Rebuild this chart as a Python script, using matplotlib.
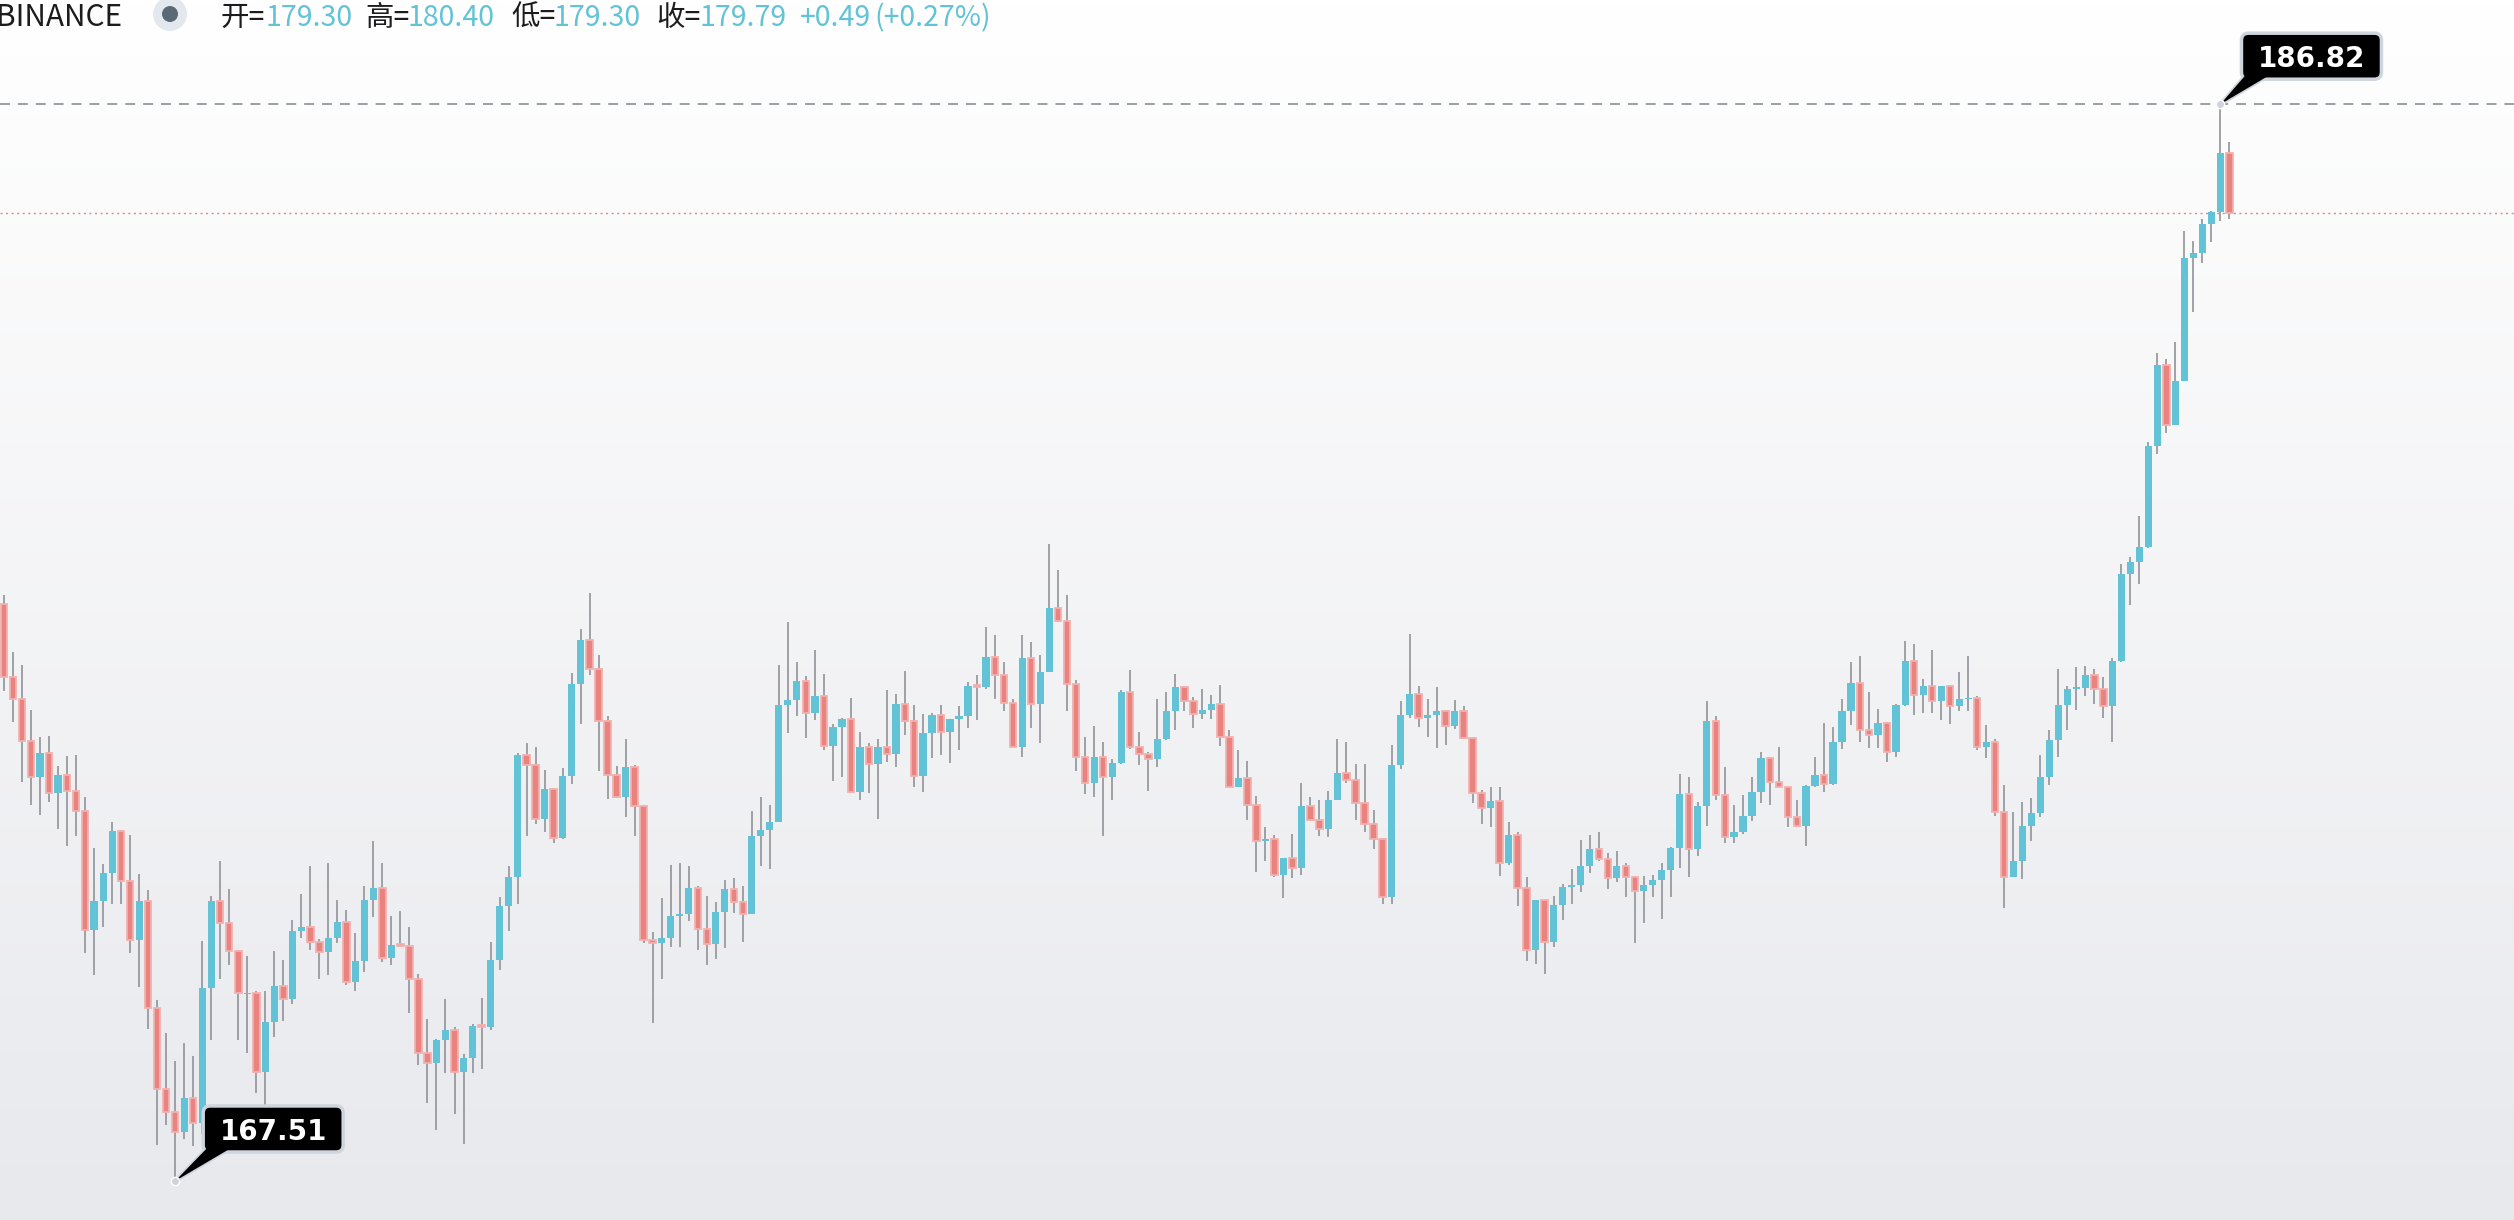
import numpy as np
import matplotlib
matplotlib.use('Agg')
import matplotlib.pyplot as plt
from matplotlib.patches import FancyBboxPatch, Polygon, Circle
from matplotlib.transforms import IdentityTransform

# ---- data ----
opens = [177.85, 176.55, 176.15, 175.40, 174.76, 175.18, 174.47, 174.79, 174.50, 174.14,
         172.01, 172.53, 173.03, 173.78, 172.89, 171.84, 172.53, 170.62, 169.16, 168.75,
         168.38, 169.00, 168.55, 170.97, 172.53, 172.14, 171.63, 170.86, 170.89, 169.46,
         170.36, 171.00, 170.77, 171.99, 172.06, 171.80, 171.61, 171.86, 172.16, 171.07,
         171.45, 172.55, 172.76, 171.50, 171.75, 171.73, 171.13, 169.81, 169.62, 170.03,
         170.22, 169.46, 169.72, 170.30, 170.28, 171.47, 172.44, 172.96, 175.15, 174.97,
         174.01, 174.54, 173.66, 174.77, 176.43, 177.21, 176.69, 175.76, 174.79, 174.39,
         174.93, 174.23, 171.83, 171.77, 171.86, 172.26, 172.29, 172.76, 172.03, 171.76,
         172.34, 172.74, 172.52, 172.30, 173.70, 173.80, 173.95, 176.05, 176.14, 176.48,
         175.91, 176.21, 175.31, 175.66, 175.79, 174.49, 175.30, 174.99, 175.30, 175.17,
         176.06, 175.75, 174.77, 175.55, 175.87, 175.57, 175.79, 175.85, 176.40, 176.37,
         176.91, 176.58, 176.09, 175.30, 176.89, 176.06, 176.64, 177.78, 177.56, 176.42,
         175.11, 174.64, 175.11, 174.75, 175.00, 176.28, 175.29, 175.17, 175.08, 175.43,
         175.93, 176.37, 176.12, 175.88, 175.96, 176.06, 175.48, 174.58, 174.73, 174.25,
         173.61, 173.64, 173.00, 173.30, 173.12, 174.23, 173.98, 173.82, 174.35, 174.82,
         174.70, 174.29, 173.92, 173.65, 172.60, 174.97, 175.87, 176.24, 175.81, 175.87,
         175.94, 175.67, 175.93, 175.45, 174.46, 174.19, 174.32, 173.21, 173.71, 172.76,
         171.66, 172.54, 171.80, 172.46, 172.79, 172.82, 173.15, 173.47, 173.28, 172.95,
         173.15, 172.97, 172.71, 172.81, 172.90, 173.08, 173.48, 174.45, 173.46, 174.23,
         175.75, 174.43, 173.68, 173.76, 174.05, 174.48, 175.10, 174.67, 174.57, 174.03,
         173.87, 174.59, 174.79, 174.63, 175.39, 175.94, 176.44, 175.59, 175.51, 175.73,
         175.21, 176.04, 176.84, 176.23, 176.39, 176.12, 176.38, 176.03, 176.15, 176.17,
         175.29, 175.38, 174.13, 172.97, 173.25, 173.88, 174.11, 174.75, 175.42, 176.04,
         176.33, 176.35, 176.58, 176.33, 176.02, 176.83, 178.39, 178.61, 178.88, 180.69,
         182.15, 181.07, 181.86, 184.06, 184.15, 184.68, 184.88, 185.94]
highs = [178.01, 177.00, 176.77, 175.95, 175.47, 175.49, 174.96, 175.13, 175.15, 174.39,
         173.48, 173.20, 173.95, 173.80, 173.72, 173.01, 172.72, 170.76, 170.17, 169.67,
         169.98, 169.75, 171.82, 172.62, 173.24, 172.74, 171.66, 171.55, 170.91, 170.91,
         171.64, 171.47, 172.19, 172.65, 173.16, 171.85, 173.21, 172.55, 172.37, 171.95,
         172.80, 173.60, 173.21, 172.26, 172.35, 172.07, 171.22, 170.42, 170.05, 170.77,
         170.28, 169.78, 170.33, 170.79, 171.80, 172.61, 173.16, 175.18, 175.37, 175.30,
         174.88, 174.56, 174.91, 176.62, 177.41, 178.06, 176.94, 175.85, 174.95, 175.43,
         174.97, 174.25, 171.98, 172.58, 173.18, 173.21, 173.16, 172.80, 172.62, 172.52,
         172.91, 172.94, 172.80, 174.15, 174.39, 174.25, 176.76, 177.54, 176.82, 176.57,
         177.04, 176.60, 175.70, 175.81, 176.17, 175.57, 175.36, 175.43, 176.32, 176.25,
         176.66, 176.05, 175.89, 175.91, 176.05, 175.80, 176.02, 176.45, 176.58, 177.45,
         177.30, 176.82, 176.15, 177.30, 177.18, 176.94, 178.93, 178.47, 178.02, 176.49,
         175.48, 175.67, 175.39, 175.07, 176.31, 176.67, 175.56, 175.21, 176.15, 176.28,
         176.60, 176.38, 176.19, 176.33, 176.22, 176.40, 175.59, 175.23, 175.05, 174.41,
         173.85, 173.71, 173.30, 173.74, 174.65, 174.39, 174.34, 174.51, 175.43, 175.39,
         174.99, 174.99, 174.16, 173.66, 175.33, 176.12, 177.32, 176.39, 176.15, 176.36,
         175.96, 176.14, 176.03, 175.46, 174.52, 174.58, 174.58, 173.95, 173.77, 172.97,
         172.55, 172.55, 172.62, 172.84, 173.10, 173.62, 173.71, 173.76, 173.40, 173.43,
         173.21, 172.98, 172.98, 173.00, 173.21, 173.50, 174.81, 174.75, 174.31, 176.11,
         175.85, 174.93, 174.25, 174.43, 174.76, 175.21, 175.12, 175.29, 174.58, 174.34,
         174.61, 175.11, 175.72, 175.65, 176.15, 176.82, 176.92, 176.28, 175.98, 175.74,
         176.06, 177.20, 177.14, 176.51, 177.04, 176.38, 176.40, 176.64, 176.92, 176.21,
         175.69, 175.43, 174.61, 174.13, 174.31, 174.37, 175.15, 175.60, 176.70, 176.39,
         176.72, 176.75, 176.69, 176.55, 176.89, 178.58, 178.70, 179.43, 180.76, 182.36,
         182.25, 182.56, 184.54, 184.37, 184.76, 184.90, 186.82, 186.15]
lows = [176.30, 175.74, 174.67, 174.26, 174.07, 174.30, 173.82, 173.52, 173.69, 171.59,
        171.21, 172.06, 172.48, 172.48, 171.59, 170.99, 170.24, 168.15, 168.52, 167.51,
        168.26, 168.14, 168.36, 170.03, 171.13, 171.38, 170.03, 169.80, 169.09, 168.79,
        170.10, 170.38, 170.69, 171.87, 171.65, 171.13, 171.20, 171.78, 171.03, 170.91,
        171.25, 172.25, 171.43, 171.39, 171.72, 170.53, 169.59, 168.90, 168.42, 169.45,
        168.71, 168.18, 169.45, 169.52, 170.22, 171.29, 171.99, 172.48, 173.69, 173.92,
        173.77, 173.57, 173.65, 174.63, 175.71, 176.59, 174.87, 174.36, 174.38, 174.03,
        173.69, 171.78, 170.35, 171.14, 171.70, 171.70, 172.18, 171.65, 171.38, 171.49,
        171.68, 172.31, 171.80, 172.30, 173.16, 173.10, 173.94, 175.55, 175.84, 175.45,
        175.77, 175.23, 174.69, 174.76, 174.47, 174.35, 174.46, 174.00, 175.03, 174.93,
        175.51, 174.57, 174.49, 175.09, 175.15, 175.00, 175.23, 175.63, 175.77, 176.33,
        176.15, 175.94, 175.29, 175.11, 175.64, 175.36, 176.63, 177.54, 175.94, 174.87,
        174.45, 174.40, 173.70, 174.35, 174.98, 175.25, 174.97, 174.51, 174.94, 175.42,
        175.60, 175.93, 175.64, 175.79, 175.79, 175.31, 174.57, 174.57, 173.99, 173.06,
        173.24, 172.97, 172.58, 172.94, 173.00, 173.97, 173.70, 173.67, 174.34, 174.64,
        173.99, 173.76, 173.46, 172.48, 172.48, 174.89, 175.81, 175.65, 175.48, 175.27,
        175.33, 175.61, 175.45, 174.29, 173.91, 173.86, 172.98, 173.18, 172.44, 171.46,
        171.40, 171.23, 171.71, 172.19, 172.48, 172.70, 173.04, 173.25, 172.74, 172.88,
        172.60, 171.78, 172.13, 172.60, 172.20, 172.61, 173.13, 172.97, 173.33, 173.88,
        174.34, 173.58, 173.58, 173.73, 173.97, 174.29, 174.25, 174.56, 173.85, 173.86,
        173.51, 174.58, 174.49, 174.62, 175.25, 175.69, 175.39, 175.27, 175.27, 175.03,
        175.11, 176.03, 175.87, 175.90, 175.90, 175.77, 175.70, 175.93, 175.94, 175.23,
        175.09, 174.05, 172.40, 172.96, 172.92, 173.61, 174.03, 174.61, 175.12, 175.60,
        175.96, 176.20, 176.06, 175.82, 175.38, 176.82, 177.84, 178.22, 178.87, 180.54,
        180.92, 181.06, 181.85, 183.10, 183.97, 184.34, 184.73, 184.77]
closes = [176.55, 176.15, 175.40, 174.76, 175.18, 174.47, 174.79, 174.50, 174.14, 172.01,
          172.53, 173.03, 173.78, 172.89, 171.84, 172.53, 170.62, 169.16, 168.75, 168.38,
          169.00, 168.55, 170.97, 172.53, 172.14, 171.63, 170.88, 170.89, 169.46, 170.36,
          171.00, 170.77, 171.99, 172.06, 171.80, 171.61, 171.86, 172.16, 171.07, 171.45,
          172.55, 172.76, 171.50, 171.75, 171.73, 171.13, 169.81, 169.62, 170.03, 170.22,
          169.46, 169.72, 170.29, 170.28, 171.47, 172.44, 172.96, 175.15, 174.97, 174.01,
          174.54, 173.66, 174.77, 176.43, 177.21, 176.69, 175.76, 174.79, 174.39, 174.93,
          174.23, 171.83, 171.77, 171.86, 172.26, 172.29, 172.76, 172.03, 171.76, 172.34,
          172.74, 172.52, 172.30, 173.70, 173.80, 173.95, 176.05, 176.14, 176.48, 175.91,
          176.21, 175.31, 175.66, 175.79, 174.49, 175.30, 174.99, 175.30, 175.17, 176.06,
          175.75, 174.77, 175.55, 175.87, 175.57, 175.79, 175.85, 176.39, 176.37, 176.91,
          176.58, 176.09, 175.30, 176.89, 176.06, 176.64, 177.78, 177.56, 176.42, 175.11,
          174.64, 175.11, 174.75, 175.00, 176.28, 175.29, 175.17, 175.08, 175.43, 175.93,
          176.37, 176.12, 175.88, 175.96, 176.06, 175.48, 174.58, 174.73, 174.25, 173.61,
          173.64, 173.00, 173.30, 173.12, 174.23, 173.98, 173.82, 174.35, 174.82, 174.70,
          174.29, 173.92, 173.65, 172.60, 174.97, 175.87, 176.24, 175.81, 175.87, 175.94,
          175.67, 175.93, 175.45, 174.46, 174.19, 174.32, 173.21, 173.71, 172.76, 171.66,
          172.54, 171.80, 172.46, 172.79, 172.82, 173.15, 173.47, 173.28, 172.95, 173.15,
          172.97, 172.71, 172.81, 172.90, 173.08, 173.48, 174.45, 173.46, 174.23, 175.75,
          174.43, 173.68, 173.76, 174.05, 174.48, 175.10, 174.67, 174.57, 174.03, 173.87,
          174.59, 174.79, 174.63, 175.39, 175.94, 176.44, 175.59, 175.51, 175.73, 175.21,
          176.04, 176.84, 176.23, 176.39, 176.12, 176.38, 176.03, 176.15, 176.17, 175.29,
          175.38, 174.13, 172.97, 173.25, 173.88, 174.11, 174.75, 175.42, 176.04, 176.33,
          176.35, 176.58, 176.33, 176.02, 176.83, 178.39, 178.61, 178.88, 180.69, 182.15,
          181.07, 181.86, 184.06, 184.15, 184.68, 184.88, 185.94, 184.87]

exchange = 'BINANCE'
header_names = ['开=', '高=', '低=', '收=']
header_values = ['179.30', '180.40', '179.30', '179.79']
header_change = ['+0.49', '(+0.27%)']

UP = '#62c3d6'
DOWN = '#e8837f'
DOWN_EDGE = '#f3b1ae'
WICK = '#909398'

W, H = 2514, 1220
fig = plt.figure(figsize=(W / 100, H / 100), dpi=100)
ax = fig.add_axes([0, 0, 1, 1])
ax.axis('off')

n = len(closes)
idx = np.arange(n)
o = np.array(opens); c = np.array(closes)
hi = np.array(highs); lo = np.array(lows)

# pixel layout: candle i centred at 4 + 9.01*i px, 186.82 sits at 104 px from top
xl = (-4 / 9.01, (W - 4) / 9.01)
pp = 0.017933  # price per pixel
yl = (186.82 - (H - 104.2) * pp, 186.82 + 104.2 * pp)
ax.set_xlim(*xl)
ax.set_ylim(*yl)

# background gradient
grad = np.linspace(0, 1, 256)[:, None]
top = np.array([1.0, 1.0, 1.0])
bot = np.array([0xe8, 0xe9, 0xed]) / 255
img = top[None, None, :] * (1 - grad[:, :, None]) + bot[None, None, :] * grad[:, :, None]
ax.imshow(img, extent=[xl[0], xl[1], yl[0], yl[1]], aspect='auto', zorder=0, origin='upper')

# candles
up = c >= o
body_lo = np.minimum(o, c)
body_h = np.maximum(np.abs(c - o), 0.03)
ax.vlines(idx, lo, hi, color=WICK, linewidth=1.2, zorder=2)
ax.bar(idx[up], body_h[up], bottom=body_lo[up], width=0.8, color=UP, linewidth=0, zorder=3)
ax.bar(idx[~up], body_h[~up], bottom=body_lo[~up], width=0.72, color=DOWN,
       edgecolor=DOWN_EDGE, linewidth=1.3, zorder=3)

# max / last price lines
i_max = int(np.argmax(hi)); i_min = int(np.argmin(lo))
ax.axhline(hi[i_max], color='#9a9ea5', linewidth=1.4, linestyle=(0, (5.1, 4.1)), zorder=1)
ax.axhline(c[-1], color=DOWN, linewidth=1.0, linestyle=(0, (1.5, 2.5)), zorder=1)


def price_tag(i, price, dx, dy, w=140, h=46):
    x, y = ax.transData.transform((i, price))
    cx, cy = x + dx, y + dy
    bx, by = cx - w / 2, cy - h / 2
    tail = [(x, y), (bx + 4, by + 4), (bx + 28, by + 4)]
    ax.add_patch(Polygon(tail, closed=True, fc='black', ec='#cfd5dc', lw=2.5,
                         transform=IdentityTransform(), zorder=5, joinstyle='round'))
    ax.add_patch(FancyBboxPatch((bx, by), w, h, boxstyle='round,pad=0,rounding_size=7',
                                fc='black', ec='#cfd5dc', lw=2.5,
                                transform=IdentityTransform(), zorder=6))
    ax.add_patch(Polygon(tail, closed=True, fc='black', ec='none',
                         transform=IdentityTransform(), zorder=7))
    ax.plot([i], [price], 'o', ms=6, mfc='#cfd4da', mec='white', mew=1, zorder=8)
    ax.text(cx, cy, f'{price:.2f}', color='white', fontsize=20, fontweight='bold',
            family='DejaVu Sans', ha='center', va='center_baseline',
            transform=IdentityTransform(), zorder=9)


price_tag(i_max, hi[i_max], 91, 48)
price_tag(i_min, lo[i_min], 98, 52)

# header
hy = 1 - 26 / H
hfont = ['Noto Sans CJK SC', 'DejaVu Sans']
fs = 20.5
fig.text(-4 / W, hy, exchange, fontsize=21.5, color='#1c1c1e', family=hfont, va='baseline')
fig.patches.append(Circle((170, H - 14), 17, transform=IdentityTransform(),
                          fc='#e3e8ee', ec='none', figure=fig))
fig.patches.append(Circle((170, H - 14), 8, transform=IdentityTransform(),
                          fc='#5b6977', ec='none', figure=fig))
name_x = [221, 365, 511, 656]
val_x = [266, 408, 553, 700]
for nm, v, nx, vx in zip(header_names, header_values, name_x, val_x):
    fig.text(nx / W, hy, nm, fontsize=fs, color='#1c1c1e', family=hfont, va='baseline')
    fig.text(vx / W, hy, v, fontsize=fs, color=UP, family=hfont, va='baseline')
for t, tx in zip(header_change, [800, 874]):
    fig.text(tx / W, hy, t, fontsize=fs, color=UP, family=hfont, va='baseline')

fig.savefig('out.png', dpi=100)
